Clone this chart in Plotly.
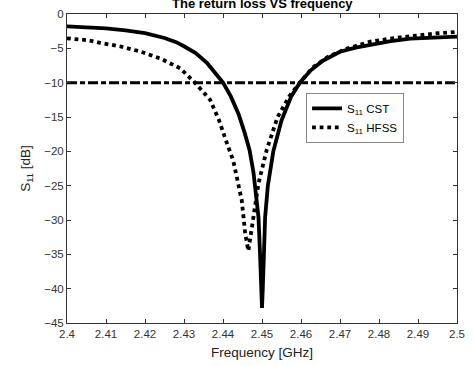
import plotly.graph_objects as go

# CST (solid) curve
cst_f = [2.400, 2.405, 2.410, 2.415, 2.420, 2.425, 2.428, 2.430, 2.433, 2.436, 2.438,
         2.440, 2.442, 2.444, 2.4455, 2.4468, 2.4478, 2.4486, 2.4491, 2.4495, 2.4498, 2.4500,
         2.4502, 2.4504, 2.4508, 2.4515, 2.4529, 2.455, 2.4575, 2.4597, 2.4625, 2.4656,
         2.470, 2.474, 2.4777, 2.483, 2.488, 2.494, 2.500]
cst_s11 = [-1.8, -1.9, -2.1, -2.4, -2.8, -3.5, -4.1, -4.7, -5.7, -7.2, -8.5,
           -10.0, -12.0, -14.6, -17.2, -19.8, -23.0, -26.5, -29.6, -35.0, -40.0, -42.8,
           -40.0, -35.5, -29.6, -25.0, -20.0, -15.5, -12.0, -10.0, -8.2, -6.8,
           -5.5, -4.9, -4.5, -3.95, -3.6, -3.4, -3.3]

# HFSS (dotted) curve
hfss_f = [2.400, 2.405, 2.4085, 2.4135, 2.4187, 2.424, 2.429, 2.4328, 2.4367, 2.439,
          2.441, 2.4426, 2.4448, 2.4457, 2.4465, 2.4469, 2.4478, 2.4491, 2.4512, 2.454,
          2.457, 2.4597, 2.463, 2.467, 2.472, 2.478, 2.484, 2.490, 2.495, 2.500]
hfss_s11 = [-3.55, -3.8, -4.2, -4.7, -5.45, -6.5, -7.9, -10.0, -12.5, -15.5,
            -18.8, -21.3, -27.1, -32.0, -34.5, -33.0, -29.6, -24.7, -19.8, -15.0,
            -12.0, -10.0, -7.8, -6.2, -5.0, -4.0, -3.5, -3.1, -2.8, -2.6]

ref_f = [2.4, 2.5]
ref_s11 = [-10, -10]

x_ticks = [2.40, 2.41, 2.42, 2.43, 2.44, 2.45, 2.46, 2.47, 2.48, 2.49, 2.50]
x_labels = ["2.4", "2.41", "2.42", "2.43", "2.44", "2.45", "2.46", "2.47", "2.48", "2.49", "2.5"]
y_ticks = [0, -5, -10, -15, -20, -25, -30, -35, -40, -45]

FONT = "Liberation Sans, Arial, sans-serif"

fig = go.Figure()
fig.add_trace(go.Scatter(x=ref_f, y=ref_s11, mode="lines", showlegend=False,
                         line=dict(color="black", width=3, dash="10px,3px,5px,3px")))
fig.add_trace(go.Scatter(x=cst_f, y=cst_s11, mode="lines", name="S<sub>11</sub> CST",
                         line=dict(color="black", width=3.8)))
fig.add_trace(go.Scatter(x=hfss_f, y=hfss_s11, mode="lines", name="S<sub>11</sub> HFSS",
                         line=dict(color="black", width=3.8, dash="dot")))

axis_common = dict(showgrid=False, zeroline=False, showline=True, linecolor="#333",
                   linewidth=1, mirror="ticks", ticks="inside", ticklen=4,
                   tickcolor="#333", automargin=False,
                   tickfont=dict(family=FONT, size=11.5, color="#333"))

fig.update_xaxes(range=[2.4, 2.5], tickvals=x_ticks, ticktext=x_labels,
                 title=dict(text="Frequency [GHz]", font=dict(family=FONT, size=13.5, color="#222"),
                            standoff=8),
                 **axis_common)
fig.update_yaxes(range=[-45, 0], tickvals=y_ticks,
                 title=dict(text="S<sub>11</sub> [dB]", font=dict(family=FONT, size=13.5, color="#222"),
                            standoff=10),
                 **axis_common)

fig.add_annotation(text="<b>The return loss VS frequency</b>", xref="paper", yref="paper",
                   x=0.5, y=1, xanchor="center", yanchor="bottom", yshift=1, showarrow=False,
                   font=dict(family=FONT, size=13, color="black"))

fig.update_layout(
    width=474, height=366,
    margin=dict(l=67, r=17, t=14, b=43, autoexpand=False),
    paper_bgcolor="white", plot_bgcolor="white",
    font=dict(family=FONT),
    legend=dict(x=0.613, y=0.745, xanchor="left", yanchor="top",
                bgcolor="white", bordercolor="#888", borderwidth=1,
                font=dict(family=FONT, size=11.5, color="black"),
                tracegroupgap=0, itemwidth=30),
)

fig.write_html("out.html", config={"displayModeBar": False},
               post_script="document.body.style.margin='0';")
